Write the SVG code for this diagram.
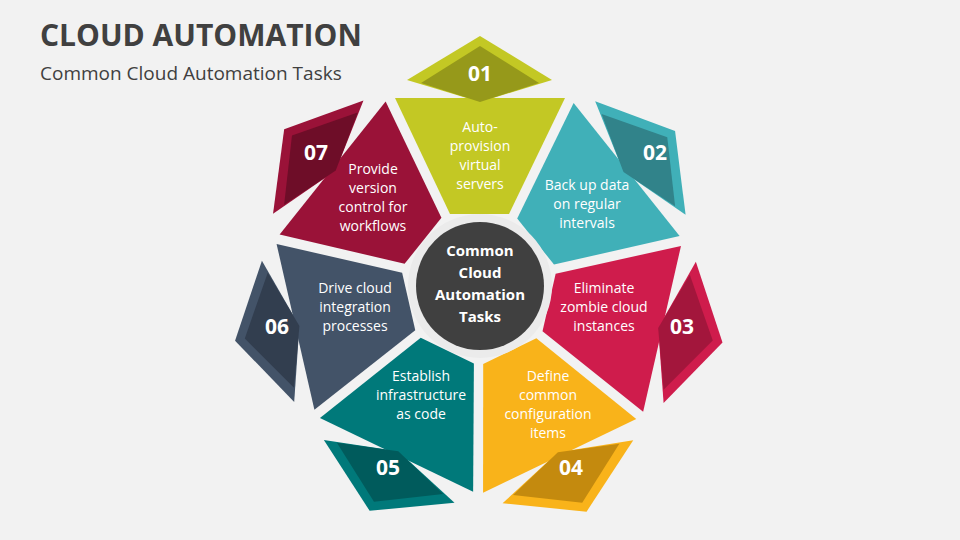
<svg xmlns="http://www.w3.org/2000/svg" width="960" height="540" viewBox="0 0 960 540">
<style>
.t{font-family:"Open Sans","Liberation Sans",sans-serif;fill:#fff;font-size:14px;text-anchor:middle}
.n{font-family:"Open Sans","Liberation Sans",sans-serif;fill:#fff;font-size:21px;font-weight:bold;text-anchor:middle}
.c{font-family:"Open Sans","Liberation Sans",sans-serif;fill:#fff;font-size:15px;font-weight:bold;text-anchor:middle}
</style>
<defs>
<g id="seg">
<polygon points="-84,-188 86,-188 30,-72 -29,-72"/>
<polygon points="-72,-206 1,-250 73,-206 1,-184"/>
</g>
<polygon id="dk" points="-58,-203 1,-240 60,-203 1,-184"/>
</defs>
<rect width="960" height="540" fill="#F2F2F2"/>
<text x="40" y="46" font-family="Open Sans,Liberation Sans,sans-serif" font-size="30" font-weight="bold" fill="#404040">CLOUD AUTOMATION</text>
<text x="40" y="80" font-family="Open Sans,Liberation Sans,sans-serif" font-size="19" fill="#404040">Common Cloud Automation Tasks</text>
<g transform="translate(479,286)">
<g id="n01"><use href="#seg" fill="#C3C824"/><use href="#dk" fill="#96991A"/></g>
<g id="n02" transform="rotate(51.43)"><use href="#seg" fill="#40B0B8"/><use href="#dk" fill="#31838A"/></g>
<g id="n03" transform="rotate(102.86)"><use href="#seg" fill="#CF1C4C"/><use href="#dk" fill="#A3163C"/></g>
<g id="n04" transform="rotate(154.29)"><use href="#seg" fill="#F9B31A"/><use href="#dk" fill="#C48A0E"/></g>
<g id="n05" transform="rotate(205.71)"><use href="#seg" fill="#00797A"/><use href="#dk" fill="#005B5C"/></g>
<g id="n06" transform="rotate(257.14)"><use href="#seg" fill="#435368"/><use href="#dk" fill="#323E4F"/></g>
<g id="n07" transform="rotate(308.57)"><use href="#seg" fill="#9A1238"/><use href="#dk" fill="#6E0D28"/></g>
</g>
<g id="center">
<circle cx="480" cy="286" r="72" fill="#EBEBEB"/>
<circle cx="480" cy="286" r="64" fill="#404040"/>
<text class="c" x="480" y="256">Common</text>
<text class="c" x="480" y="278">Cloud</text>
<text class="c" x="480" y="300">Automation</text>
<text class="c" x="480" y="322">Tasks</text>
</g>
<g id="labels">
<text class="n" x="480" y="81">01</text>
<text class="n" x="655" y="160">02</text>
<text class="n" x="682" y="334">03</text>
<text class="n" x="571" y="475">04</text>
<text class="n" x="388" y="475">05</text>
<text class="n" x="277" y="334">06</text>
<text class="n" x="316" y="160">07</text>
<text class="t" x="480" y="132">Auto-</text><text class="t" x="480" y="151">provision</text><text class="t" x="480" y="170">virtual</text><text class="t" x="480" y="189">servers</text>
<text class="t" x="587" y="190">Back up data</text><text class="t" x="587" y="209">on regular</text><text class="t" x="587" y="228">intervals</text>
<text class="t" x="604" y="293">Eliminate</text><text class="t" x="604" y="312">zombie cloud</text><text class="t" x="604" y="331">instances</text>
<text class="t" x="548" y="381">Define</text><text class="t" x="548" y="400">common</text><text class="t" x="548" y="419">configuration</text><text class="t" x="548" y="438">items</text>
<text class="t" x="421" y="381">Establish</text><text class="t" x="421" y="400">infrastructure</text><text class="t" x="421" y="419">as code</text>
<text class="t" x="355" y="293">Drive cloud</text><text class="t" x="355" y="312">integration</text><text class="t" x="355" y="331">processes</text>
<text class="t" x="373" y="174">Provide</text><text class="t" x="373" y="193">version</text><text class="t" x="373" y="212">control for</text><text class="t" x="373" y="231">workflows</text>
</g>
<g id="connectors"/>
</svg>
